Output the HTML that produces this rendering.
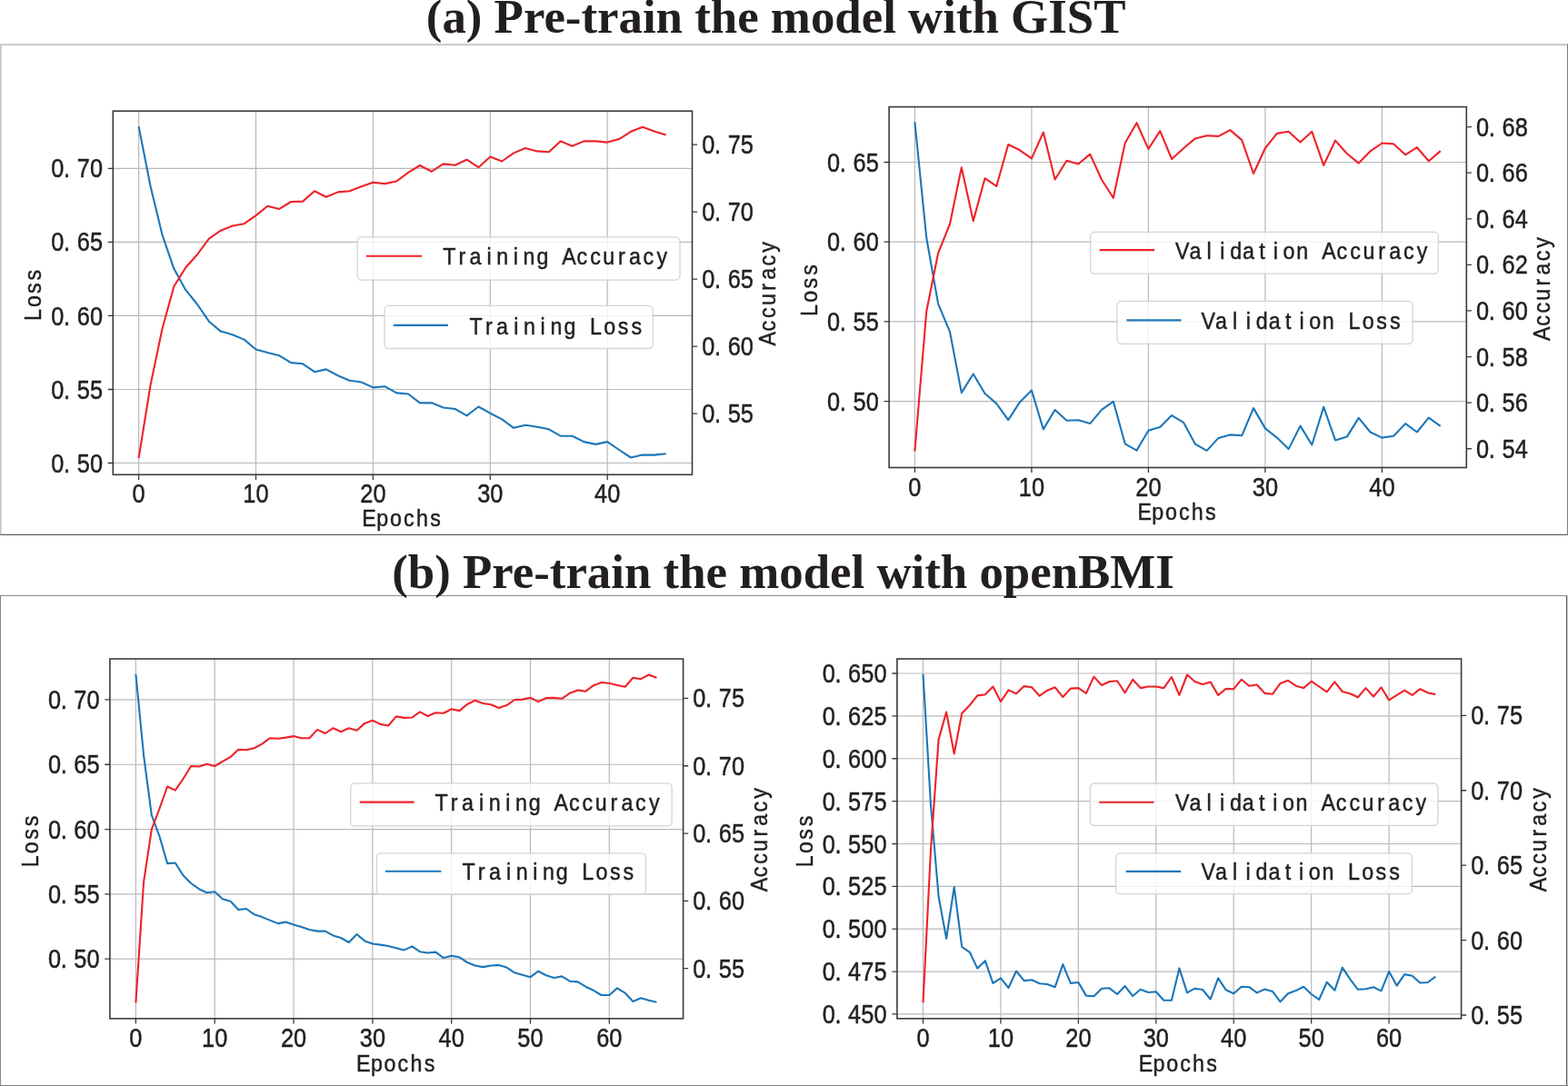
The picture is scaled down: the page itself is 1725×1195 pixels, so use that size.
<!DOCTYPE html>
<html><head><meta charset="utf-8"><title>Pre-train curves</title>
<style>html,body{margin:0;padding:0;background:#fff;overflow:hidden;}svg{display:block;}</style></head><body>
<svg width="1725" height="1195" viewBox="0 0 1725 1195">
<rect width="1725" height="1195" fill="#fff"/>
<path d="M0.8,588 V49.2 H1725" fill="none" stroke="#c3c3c3" stroke-width="1.7"/>
<path d="M1724.5,48.5 V588.5 H0" fill="none" stroke="#7d7d7d" stroke-width="1.1"/>
<path d="M1.2,588.3 H1724" fill="none" stroke="#5c5c5c" stroke-width="1.2"/>
<path d="M0.5,1195 V655.5 H1723.5 V1195" fill="none" stroke="#888" stroke-width="1.1"/>
<path d="M1723.6,655.5 V1195" fill="none" stroke="#555" stroke-width="1.2"/>
<path d="M0,1194.5 H1725" fill="none" stroke="#7f7f7f" stroke-width="1.2"/>
<text x="468.8" y="36.0" font-family="'Liberation Serif', serif" font-weight="bold" font-size="52.85" fill="#231f20">(a) Pre-train the model with GIST</text>
<text x="431.2" y="646.6" font-family="'Liberation Serif', serif" font-weight="bold" font-size="52.85" fill="#231f20">(b) Pre-train the model with openBMI</text>
<clipPath id="clipA1"><rect x="124.3" y="122.2" width="637.2" height="400.09999999999997"/></clipPath>
<line x1="152.60" y1="122.2" x2="152.60" y2="522.3" stroke="#b9b9b9" stroke-width="1.2"/>
<line x1="281.50" y1="122.2" x2="281.50" y2="522.3" stroke="#b9b9b9" stroke-width="1.2"/>
<line x1="410.40" y1="122.2" x2="410.40" y2="522.3" stroke="#b9b9b9" stroke-width="1.2"/>
<line x1="539.30" y1="122.2" x2="539.30" y2="522.3" stroke="#b9b9b9" stroke-width="1.2"/>
<line x1="668.20" y1="122.2" x2="668.20" y2="522.3" stroke="#b9b9b9" stroke-width="1.2"/>
<line x1="124.3" y1="509.52" x2="761.5" y2="509.52" stroke="#b9b9b9" stroke-width="1.2"/>
<line x1="124.3" y1="428.49" x2="761.5" y2="428.49" stroke="#b9b9b9" stroke-width="1.2"/>
<line x1="124.3" y1="347.46" x2="761.5" y2="347.46" stroke="#b9b9b9" stroke-width="1.2"/>
<line x1="124.3" y1="266.43" x2="761.5" y2="266.43" stroke="#b9b9b9" stroke-width="1.2"/>
<line x1="124.3" y1="185.40" x2="761.5" y2="185.40" stroke="#b9b9b9" stroke-width="1.2"/>
<g clip-path="url(#clipA1)"><polyline points="152.6,139.1 165.5,204.7 178.4,258.0 191.3,295.6 204.2,318.9 217.1,335.0 229.9,353.7 242.8,364.6 255.7,368.2 268.6,373.6 281.5,384.5 294.4,388.1 307.3,391.3 320.2,399.1 333.1,400.3 346.0,409.2 358.8,406.4 371.7,413.3 384.6,418.8 397.5,420.5 410.4,426.4 423.3,425.2 436.2,432.4 449.1,433.5 462.0,443.4 474.9,443.2 487.7,448.5 500.6,450.0 513.5,457.4 526.4,447.5 539.3,454.7 552.2,461.4 565.1,470.8 578.0,467.8 590.9,469.7 603.8,472.3 616.6,479.7 629.5,479.7 642.4,486.1 655.3,488.9 668.2,486.1 681.1,495.0 694.0,503.5 706.9,500.6 719.8,500.6 732.7,499.3" fill="none" stroke="#1c76b8" stroke-width="2.1" stroke-linejoin="round" stroke-linecap="butt"/></g>
<rect x="423.0" y="336.4" width="295.2" height="47.1" rx="4.5" ry="4.5" fill="#fff" fill-opacity="0.8" stroke="#d4d4d4" stroke-width="1.3"/>
<line x1="432.8" y1="357.9" x2="492.9" y2="357.9" stroke="#1c76b8" stroke-width="2.1"/>
<text transform="scale(0.9,1)" x="581.86 597.55 613.98 630.88 647.19 663.56 679.87 696.52 8052.67 728.28 745.25 761.70 778.04" y="367.60" font-size="25.8" text-anchor="middle" font-family="'Liberation Sans', 'Noto Sans CJK SC', sans-serif" fill="#231f20" stroke="#231f20" stroke-width="0.5" stroke-linejoin="round" >Training Loss</text>
<g clip-path="url(#clipA1)"><polyline points="152.6,504.1 165.5,424.0 178.4,362.2 191.3,315.3 204.2,294.5 217.1,280.0 229.9,262.7 242.8,253.7 255.7,248.5 268.6,246.2 281.5,237.1 294.4,226.7 307.3,229.9 320.2,222.0 333.1,221.6 346.0,210.3 358.8,216.7 371.7,211.4 384.6,210.3 397.5,205.2 410.4,200.8 423.3,202.1 436.2,199.5 449.1,189.9 462.0,182.0 474.9,188.7 487.7,180.4 500.6,181.7 513.5,175.7 526.4,184.2 539.3,172.5 552.2,177.5 565.1,168.4 578.0,163.0 590.9,166.4 603.8,167.3 616.6,155.4 629.5,160.7 642.4,155.4 655.3,155.4 668.2,156.6 681.1,153.1 694.0,144.8 706.9,139.7 719.8,144.4 732.7,148.6" fill="none" stroke="#ee2228" stroke-width="2.1" stroke-linejoin="round" stroke-linecap="butt"/></g>
<rect x="393.1" y="260.8" width="354.9" height="47.4" rx="4.5" ry="4.5" fill="#fff" fill-opacity="0.8" stroke="#d4d4d4" stroke-width="1.3"/>
<line x1="402.9" y1="281.7" x2="464.1" y2="281.7" stroke="#ee2228" stroke-width="2.1"/>
<text transform="scale(0.9,1)" x="549.19 564.79 581.13 597.94 614.16 630.43 646.66 663.21 8019.27 695.42 711.46 727.71 744.19 759.77 776.12 792.71 809.16" y="291.40" font-size="25.8" text-anchor="middle" font-family="'Liberation Sans', 'Noto Sans CJK SC', sans-serif" fill="#231f20" stroke="#231f20" stroke-width="0.5" stroke-linejoin="round" >Training Accuracy</text>
<rect x="124.3" y="122.2" width="637.2" height="400.09999999999997" fill="none" stroke="#3a3a3a" stroke-width="1.6"/>
<path d="M118.70,509.52H124.3M118.70,428.49H124.3M118.70,347.46H124.3M118.70,266.43H124.3M118.70,185.40H124.3M761.5,455.22H767.10M761.5,381.19H767.10M761.5,307.16H767.10M761.5,233.13H767.10M761.5,159.10H767.10M152.60,522.3V527.90M281.50,522.3V527.90M410.40,522.3V527.90M539.30,522.3V527.90M668.20,522.3V527.90" stroke="#3a3a3a" stroke-width="1.3" fill="none"/>
<text transform="scale(0.865,1)" x="73.24 85.03 106.07 122.49" y="519.57" font-size="29.3" text-anchor="middle" font-family="'Liberation Sans', 'Noto Sans CJK SC', sans-serif" fill="#231f20" stroke="#231f20" stroke-width="0.5" stroke-linejoin="round" >0.50</text>
<text transform="scale(0.865,1)" x="73.24 85.03 106.07 122.49" y="438.54" font-size="29.3" text-anchor="middle" font-family="'Liberation Sans', 'Noto Sans CJK SC', sans-serif" fill="#231f20" stroke="#231f20" stroke-width="0.5" stroke-linejoin="round" >0.55</text>
<text transform="scale(0.865,1)" x="73.24 85.03 106.07 122.49" y="357.51" font-size="29.3" text-anchor="middle" font-family="'Liberation Sans', 'Noto Sans CJK SC', sans-serif" fill="#231f20" stroke="#231f20" stroke-width="0.5" stroke-linejoin="round" >0.60</text>
<text transform="scale(0.865,1)" x="73.24 85.03 106.07 122.49" y="276.48" font-size="29.3" text-anchor="middle" font-family="'Liberation Sans', 'Noto Sans CJK SC', sans-serif" fill="#231f20" stroke="#231f20" stroke-width="0.5" stroke-linejoin="round" >0.65</text>
<text transform="scale(0.865,1)" x="73.24 85.03 106.07 122.49" y="195.45" font-size="29.3" text-anchor="middle" font-family="'Liberation Sans', 'Noto Sans CJK SC', sans-serif" fill="#231f20" stroke="#231f20" stroke-width="0.5" stroke-linejoin="round" >0.70</text>
<text transform="scale(0.865,1)" x="900.92 912.72 933.76 950.17" y="465.27" font-size="29.3" text-anchor="middle" font-family="'Liberation Sans', 'Noto Sans CJK SC', sans-serif" fill="#231f20" stroke="#231f20" stroke-width="0.5" stroke-linejoin="round" >0.55</text>
<text transform="scale(0.865,1)" x="900.92 912.72 933.76 950.17" y="391.24" font-size="29.3" text-anchor="middle" font-family="'Liberation Sans', 'Noto Sans CJK SC', sans-serif" fill="#231f20" stroke="#231f20" stroke-width="0.5" stroke-linejoin="round" >0.60</text>
<text transform="scale(0.865,1)" x="900.92 912.72 933.76 950.17" y="317.21" font-size="29.3" text-anchor="middle" font-family="'Liberation Sans', 'Noto Sans CJK SC', sans-serif" fill="#231f20" stroke="#231f20" stroke-width="0.5" stroke-linejoin="round" >0.65</text>
<text transform="scale(0.865,1)" x="900.92 912.72 933.76 950.17" y="243.18" font-size="29.3" text-anchor="middle" font-family="'Liberation Sans', 'Noto Sans CJK SC', sans-serif" fill="#231f20" stroke="#231f20" stroke-width="0.5" stroke-linejoin="round" >0.70</text>
<text transform="scale(0.865,1)" x="900.92 912.72 933.76 950.17" y="169.15" font-size="29.3" text-anchor="middle" font-family="'Liberation Sans', 'Noto Sans CJK SC', sans-serif" fill="#231f20" stroke="#231f20" stroke-width="0.5" stroke-linejoin="round" >0.75</text>
<text transform="scale(0.865,1)" x="176.42" y="552.80" font-size="29.3" text-anchor="middle" font-family="'Liberation Sans', 'Noto Sans CJK SC', sans-serif" fill="#231f20" stroke="#231f20" stroke-width="0.5" stroke-linejoin="round" >0</text>
<text transform="scale(0.865,1)" x="317.23 333.64" y="552.80" font-size="29.3" text-anchor="middle" font-family="'Liberation Sans', 'Noto Sans CJK SC', sans-serif" fill="#231f20" stroke="#231f20" stroke-width="0.5" stroke-linejoin="round" >10</text>
<text transform="scale(0.865,1)" x="466.24 482.66" y="552.80" font-size="29.3" text-anchor="middle" font-family="'Liberation Sans', 'Noto Sans CJK SC', sans-serif" fill="#231f20" stroke="#231f20" stroke-width="0.5" stroke-linejoin="round" >20</text>
<text transform="scale(0.865,1)" x="615.26 631.68" y="552.80" font-size="29.3" text-anchor="middle" font-family="'Liberation Sans', 'Noto Sans CJK SC', sans-serif" fill="#231f20" stroke="#231f20" stroke-width="0.5" stroke-linejoin="round" >30</text>
<text transform="scale(0.865,1)" x="764.28 780.69" y="552.80" font-size="29.3" text-anchor="middle" font-family="'Liberation Sans', 'Noto Sans CJK SC', sans-serif" fill="#231f20" stroke="#231f20" stroke-width="0.5" stroke-linejoin="round" >40</text>
<text transform="scale(0.9,1)" x="451.15 467.47 483.86 499.75 516.00 532.26" y="579.50" font-size="25.8" text-anchor="middle" font-family="'Liberation Sans', 'Noto Sans CJK SC', sans-serif" fill="#231f20" stroke="#231f20" stroke-width="0.5" stroke-linejoin="round" >Epochs</text>
<text transform="translate(45.20,0) rotate(-90) scale(0.9,1)" x="-385.16 -368.49 -352.34 -336.30" y="0" font-size="25.8" text-anchor="middle" font-family="'Liberation Sans', 'Noto Sans CJK SC', sans-serif" fill="#231f20" stroke="#231f20" stroke-width="0.5">Loss</text>
<text transform="translate(853.30,0) rotate(-90) scale(0.9,1)" x="-414.22 -398.44 -382.45 -366.23 -350.90 -334.81 -318.48 -302.29" y="0" font-size="25.8" text-anchor="middle" font-family="'Liberation Sans', 'Noto Sans CJK SC', sans-serif" fill="#231f20" stroke="#231f20" stroke-width="0.5">Accuracy</text>
<clipPath id="clipA2"><rect x="978.1" y="117.6" width="635.1999999999999" height="396.9"/></clipPath>
<line x1="1006.40" y1="117.6" x2="1006.40" y2="514.5" stroke="#b9b9b9" stroke-width="1.2"/>
<line x1="1134.90" y1="117.6" x2="1134.90" y2="514.5" stroke="#b9b9b9" stroke-width="1.2"/>
<line x1="1263.40" y1="117.6" x2="1263.40" y2="514.5" stroke="#b9b9b9" stroke-width="1.2"/>
<line x1="1391.90" y1="117.6" x2="1391.90" y2="514.5" stroke="#b9b9b9" stroke-width="1.2"/>
<line x1="1520.40" y1="117.6" x2="1520.40" y2="514.5" stroke="#b9b9b9" stroke-width="1.2"/>
<line x1="978.1" y1="441.60" x2="1613.3" y2="441.60" stroke="#b9b9b9" stroke-width="1.2"/>
<line x1="978.1" y1="353.90" x2="1613.3" y2="353.90" stroke="#b9b9b9" stroke-width="1.2"/>
<line x1="978.1" y1="266.20" x2="1613.3" y2="266.20" stroke="#b9b9b9" stroke-width="1.2"/>
<line x1="978.1" y1="178.50" x2="1613.3" y2="178.50" stroke="#b9b9b9" stroke-width="1.2"/>
<g clip-path="url(#clipA2)"><polyline points="1006.4,134.4 1019.2,261.5 1032.1,334.4 1045.0,365.2 1057.8,432.1 1070.7,411.5 1083.5,433.0 1096.3,444.1 1109.2,462.1 1122.0,442.4 1134.9,429.5 1147.8,472.4 1160.6,451.0 1173.5,462.8 1186.3,462.2 1199.2,466.1 1212.0,450.8 1224.8,441.8 1237.7,488.3 1250.5,495.7 1263.4,473.7 1276.2,469.9 1289.1,457.1 1302.0,464.8 1314.8,488.6 1327.7,495.9 1340.5,481.9 1353.3,478.4 1366.2,479.3 1379.0,449.1 1391.9,471.4 1404.8,481.6 1417.6,494.1 1430.5,468.6 1443.3,489.5 1456.2,447.8 1469.0,484.4 1481.8,480.6 1494.7,459.9 1507.5,475.5 1520.4,481.6 1533.2,479.7 1546.1,466.1 1558.9,475.5 1571.8,459.7 1584.7,468.9" fill="none" stroke="#1c76b8" stroke-width="2.1" stroke-linejoin="round" stroke-linecap="butt"/></g>
<rect x="1229.0" y="331.3" width="325.1" height="47.0" rx="4.5" ry="4.5" fill="#fff" fill-opacity="0.8" stroke="#d4d4d4" stroke-width="1.3"/>
<line x1="1239.4" y1="352.4" x2="1299.4" y2="352.4" stroke="#1c76b8" stroke-width="2.1"/>
<text transform="scale(0.9,1)" x="1477.05 1492.79 1509.63 1525.93 1542.51 1557.97 1574.71 1591.11 1607.39 1623.67 8980.08 1655.64 1672.57 1688.97 1705.26" y="362.10" font-size="25.8" text-anchor="middle" font-family="'Liberation Sans', 'Noto Sans CJK SC', sans-serif" fill="#231f20" stroke="#231f20" stroke-width="0.5" stroke-linejoin="round" >Validation Loss</text>
<g clip-path="url(#clipA2)"><polyline points="1006.4,496.5 1019.2,342.8 1032.1,278.5 1045.0,246.5 1057.8,184.2 1070.7,243.1 1083.5,196.2 1096.3,204.8 1109.2,159.0 1122.0,165.3 1134.9,174.4 1147.8,145.6 1160.6,197.5 1173.5,176.8 1186.3,180.5 1199.2,169.6 1212.0,197.7 1224.8,217.8 1237.7,157.5 1250.5,135.2 1263.4,163.9 1276.2,144.1 1289.1,175.0 1302.0,163.3 1314.8,152.4 1327.7,149.2 1340.5,149.9 1353.3,143.1 1366.2,154.1 1379.0,191.0 1391.9,163.0 1404.8,146.9 1417.6,144.8 1430.5,156.6 1443.3,144.8 1456.2,181.8 1469.0,154.6 1481.8,169.0 1494.7,179.6 1507.5,166.4 1520.4,157.5 1533.2,158.4 1546.1,170.3 1558.9,162.2 1571.8,177.3 1584.7,166.1" fill="none" stroke="#ee2228" stroke-width="2.1" stroke-linejoin="round" stroke-linecap="butt"/></g>
<rect x="1199.7" y="255.4" width="382.6" height="45.7" rx="4.5" ry="4.5" fill="#fff" fill-opacity="0.8" stroke="#d4d4d4" stroke-width="1.3"/>
<line x1="1209.7" y1="275.1" x2="1270.0" y2="275.1" stroke="#ee2228" stroke-width="2.1"/>
<text transform="scale(0.9,1)" x="1445.27 1461.00 1477.83 1494.13 1510.70 1526.14 1542.87 1559.26 1575.54 1591.81 8948.21 1624.39 1640.47 1656.76 1673.27 1688.89 1705.27 1721.89 1738.38" y="284.90" font-size="25.8" text-anchor="middle" font-family="'Liberation Sans', 'Noto Sans CJK SC', sans-serif" fill="#231f20" stroke="#231f20" stroke-width="0.5" stroke-linejoin="round" >Validation Accuracy</text>
<rect x="978.1" y="117.6" width="635.1999999999999" height="396.9" fill="none" stroke="#3a3a3a" stroke-width="1.6"/>
<path d="M972.50,441.60H978.1M972.50,353.90H978.1M972.50,266.20H978.1M972.50,178.50H978.1M1613.3,493.73H1618.90M1613.3,443.14H1618.90M1613.3,392.55H1618.90M1613.3,341.96H1618.90M1613.3,291.37H1618.90M1613.3,240.78H1618.90M1613.3,190.19H1618.90M1613.3,139.60H1618.90M1006.40,514.5V520.10M1134.90,514.5V520.10M1263.40,514.5V520.10M1391.90,514.5V520.10M1520.40,514.5V520.10" stroke="#3a3a3a" stroke-width="1.3" fill="none"/>
<text transform="scale(0.865,1)" x="1060.29 1072.08 1093.12 1109.54" y="451.65" font-size="29.3" text-anchor="middle" font-family="'Liberation Sans', 'Noto Sans CJK SC', sans-serif" fill="#231f20" stroke="#231f20" stroke-width="0.5" stroke-linejoin="round" >0.50</text>
<text transform="scale(0.865,1)" x="1060.29 1072.08 1093.12 1109.54" y="363.95" font-size="29.3" text-anchor="middle" font-family="'Liberation Sans', 'Noto Sans CJK SC', sans-serif" fill="#231f20" stroke="#231f20" stroke-width="0.5" stroke-linejoin="round" >0.55</text>
<text transform="scale(0.865,1)" x="1060.29 1072.08 1093.12 1109.54" y="276.25" font-size="29.3" text-anchor="middle" font-family="'Liberation Sans', 'Noto Sans CJK SC', sans-serif" fill="#231f20" stroke="#231f20" stroke-width="0.5" stroke-linejoin="round" >0.60</text>
<text transform="scale(0.865,1)" x="1060.29 1072.08 1093.12 1109.54" y="188.55" font-size="29.3" text-anchor="middle" font-family="'Liberation Sans', 'Noto Sans CJK SC', sans-serif" fill="#231f20" stroke="#231f20" stroke-width="0.5" stroke-linejoin="round" >0.65</text>
<text transform="scale(0.865,1)" x="1885.66 1897.46 1918.50 1934.91" y="503.78" font-size="29.3" text-anchor="middle" font-family="'Liberation Sans', 'Noto Sans CJK SC', sans-serif" fill="#231f20" stroke="#231f20" stroke-width="0.5" stroke-linejoin="round" >0.54</text>
<text transform="scale(0.865,1)" x="1885.66 1897.46 1918.50 1934.91" y="453.19" font-size="29.3" text-anchor="middle" font-family="'Liberation Sans', 'Noto Sans CJK SC', sans-serif" fill="#231f20" stroke="#231f20" stroke-width="0.5" stroke-linejoin="round" >0.56</text>
<text transform="scale(0.865,1)" x="1885.66 1897.46 1918.50 1934.91" y="402.60" font-size="29.3" text-anchor="middle" font-family="'Liberation Sans', 'Noto Sans CJK SC', sans-serif" fill="#231f20" stroke="#231f20" stroke-width="0.5" stroke-linejoin="round" >0.58</text>
<text transform="scale(0.865,1)" x="1885.66 1897.46 1918.50 1934.91" y="352.01" font-size="29.3" text-anchor="middle" font-family="'Liberation Sans', 'Noto Sans CJK SC', sans-serif" fill="#231f20" stroke="#231f20" stroke-width="0.5" stroke-linejoin="round" >0.60</text>
<text transform="scale(0.865,1)" x="1885.66 1897.46 1918.50 1934.91" y="301.42" font-size="29.3" text-anchor="middle" font-family="'Liberation Sans', 'Noto Sans CJK SC', sans-serif" fill="#231f20" stroke="#231f20" stroke-width="0.5" stroke-linejoin="round" >0.62</text>
<text transform="scale(0.865,1)" x="1885.66 1897.46 1918.50 1934.91" y="250.83" font-size="29.3" text-anchor="middle" font-family="'Liberation Sans', 'Noto Sans CJK SC', sans-serif" fill="#231f20" stroke="#231f20" stroke-width="0.5" stroke-linejoin="round" >0.64</text>
<text transform="scale(0.865,1)" x="1885.66 1897.46 1918.50 1934.91" y="200.24" font-size="29.3" text-anchor="middle" font-family="'Liberation Sans', 'Noto Sans CJK SC', sans-serif" fill="#231f20" stroke="#231f20" stroke-width="0.5" stroke-linejoin="round" >0.66</text>
<text transform="scale(0.865,1)" x="1885.66 1897.46 1918.50 1934.91" y="149.65" font-size="29.3" text-anchor="middle" font-family="'Liberation Sans', 'Noto Sans CJK SC', sans-serif" fill="#231f20" stroke="#231f20" stroke-width="0.5" stroke-linejoin="round" >0.68</text>
<text transform="scale(0.865,1)" x="1163.47" y="546.40" font-size="29.3" text-anchor="middle" font-family="'Liberation Sans', 'Noto Sans CJK SC', sans-serif" fill="#231f20" stroke="#231f20" stroke-width="0.5" stroke-linejoin="round" >0</text>
<text transform="scale(0.865,1)" x="1303.82 1320.23" y="546.40" font-size="29.3" text-anchor="middle" font-family="'Liberation Sans', 'Noto Sans CJK SC', sans-serif" fill="#231f20" stroke="#231f20" stroke-width="0.5" stroke-linejoin="round" >10</text>
<text transform="scale(0.865,1)" x="1452.37 1468.79" y="546.40" font-size="29.3" text-anchor="middle" font-family="'Liberation Sans', 'Noto Sans CJK SC', sans-serif" fill="#231f20" stroke="#231f20" stroke-width="0.5" stroke-linejoin="round" >20</text>
<text transform="scale(0.865,1)" x="1600.92 1617.34" y="546.40" font-size="29.3" text-anchor="middle" font-family="'Liberation Sans', 'Noto Sans CJK SC', sans-serif" fill="#231f20" stroke="#231f20" stroke-width="0.5" stroke-linejoin="round" >30</text>
<text transform="scale(0.865,1)" x="1749.48 1765.90" y="546.40" font-size="29.3" text-anchor="middle" font-family="'Liberation Sans', 'Noto Sans CJK SC', sans-serif" fill="#231f20" stroke="#231f20" stroke-width="0.5" stroke-linejoin="round" >40</text>
<text transform="scale(0.9,1)" x="1399.04 1415.29 1431.61 1447.44 1463.62 1479.82" y="571.90" font-size="25.8" text-anchor="middle" font-family="'Liberation Sans', 'Noto Sans CJK SC', sans-serif" fill="#231f20" stroke="#231f20" stroke-width="0.5" stroke-linejoin="round" >Epochs</text>
<text transform="translate(899.00,0) rotate(-90) scale(0.9,1)" x="-379.61 -362.68 -346.27 -329.96" y="0" font-size="25.8" text-anchor="middle" font-family="'Liberation Sans', 'Noto Sans CJK SC', sans-serif" fill="#231f20" stroke="#231f20" stroke-width="0.5">Loss</text>
<text transform="translate(1705.30,0) rotate(-90) scale(0.9,1)" x="-408.00 -392.31 -376.42 -360.29 -345.06 -329.07 -312.83 -296.73" y="0" font-size="25.8" text-anchor="middle" font-family="'Liberation Sans', 'Noto Sans CJK SC', sans-serif" fill="#231f20" stroke="#231f20" stroke-width="0.5">Accuracy</text>
<clipPath id="clipB1"><rect x="120.9" y="725.0" width="630.7" height="395.79999999999995"/></clipPath>
<line x1="149.40" y1="725.0" x2="149.40" y2="1120.8" stroke="#b9b9b9" stroke-width="1.2"/>
<line x1="236.22" y1="725.0" x2="236.22" y2="1120.8" stroke="#b9b9b9" stroke-width="1.2"/>
<line x1="323.04" y1="725.0" x2="323.04" y2="1120.8" stroke="#b9b9b9" stroke-width="1.2"/>
<line x1="409.86" y1="725.0" x2="409.86" y2="1120.8" stroke="#b9b9b9" stroke-width="1.2"/>
<line x1="496.68" y1="725.0" x2="496.68" y2="1120.8" stroke="#b9b9b9" stroke-width="1.2"/>
<line x1="583.50" y1="725.0" x2="583.50" y2="1120.8" stroke="#b9b9b9" stroke-width="1.2"/>
<line x1="670.32" y1="725.0" x2="670.32" y2="1120.8" stroke="#b9b9b9" stroke-width="1.2"/>
<line x1="120.9" y1="1055.22" x2="751.6" y2="1055.22" stroke="#b9b9b9" stroke-width="1.2"/>
<line x1="120.9" y1="983.89" x2="751.6" y2="983.89" stroke="#b9b9b9" stroke-width="1.2"/>
<line x1="120.9" y1="912.56" x2="751.6" y2="912.56" stroke="#b9b9b9" stroke-width="1.2"/>
<line x1="120.9" y1="841.23" x2="751.6" y2="841.23" stroke="#b9b9b9" stroke-width="1.2"/>
<line x1="120.9" y1="769.90" x2="751.6" y2="769.90" stroke="#b9b9b9" stroke-width="1.2"/>
<g clip-path="url(#clipB1)"><polyline points="149.4,741.9 158.1,831.3 166.8,897.0 175.4,920.0 184.1,950.1 192.8,949.5 201.5,963.2 210.2,972.0 218.9,978.2 227.5,982.2 236.2,981.2 244.9,989.2 253.6,991.7 262.3,1001.0 270.9,1000.0 279.6,1006.2 288.3,1009.1 297.0,1012.6 305.7,1016.1 314.4,1014.6 323.0,1017.6 331.7,1020.1 340.4,1023.0 349.1,1024.6 357.8,1024.6 366.5,1029.4 375.1,1032.0 383.8,1037.0 392.5,1028.0 401.2,1035.4 409.9,1038.5 418.5,1039.6 427.2,1041.0 435.9,1043.3 444.6,1045.4 453.3,1041.4 462.0,1047.2 470.6,1048.5 479.3,1047.6 488.0,1054.1 496.7,1051.7 505.4,1053.3 514.0,1059.0 522.7,1062.5 531.4,1064.1 540.1,1062.5 548.8,1061.9 557.5,1064.6 566.1,1070.3 574.8,1072.8 583.5,1075.2 592.2,1068.7 600.9,1073.2 609.5,1076.0 618.2,1074.4 626.9,1079.7 635.6,1080.4 644.3,1085.7 653.0,1089.8 661.6,1095.0 670.3,1095.0 679.0,1087.4 687.7,1092.7 696.4,1102.0 705.0,1098.2 713.7,1100.8 722.4,1102.8" fill="none" stroke="#1c76b8" stroke-width="2.1" stroke-linejoin="round" stroke-linecap="butt"/></g>
<rect x="414.4" y="938.9" width="296.1" height="45.1" rx="4.5" ry="4.5" fill="#fff" fill-opacity="0.8" stroke="#d4d4d4" stroke-width="1.3"/>
<line x1="423.8" y1="958.8" x2="485.4" y2="958.8" stroke="#1c76b8" stroke-width="2.1"/>
<text transform="scale(0.9,1)" x="572.86 588.47 604.83 621.65 637.89 654.19 670.43 687.00 8043.08 718.61 735.51 751.88 768.15" y="968.40" font-size="25.8" text-anchor="middle" font-family="'Liberation Sans', 'Noto Sans CJK SC', sans-serif" fill="#231f20" stroke="#231f20" stroke-width="0.5" stroke-linejoin="round" >Training Loss</text>
<g clip-path="url(#clipB1)"><polyline points="149.4,1103.4 158.1,970.3 166.8,912.7 175.4,890.0 184.1,865.5 192.8,869.6 201.5,857.0 210.2,843.0 218.9,843.5 227.5,840.7 236.2,843.0 244.9,837.8 253.6,832.9 262.3,824.7 270.9,825.2 279.6,823.2 288.3,818.6 297.0,812.2 305.7,812.8 314.4,811.6 323.0,810.1 331.7,812.2 340.4,812.2 349.1,802.9 357.8,807.0 366.5,801.2 375.1,805.2 383.8,801.2 392.5,803.8 401.2,795.9 409.9,792.8 418.5,796.9 427.2,798.5 435.9,788.4 444.6,789.9 453.3,789.5 462.0,783.4 470.6,788.0 479.3,784.2 488.0,784.7 496.7,780.2 505.4,782.1 514.0,775.0 522.7,770.8 531.4,774.0 540.1,775.3 548.8,779.0 557.5,776.1 566.1,770.0 574.8,769.6 583.5,767.7 592.2,772.1 600.9,768.0 609.5,767.7 618.2,768.8 626.9,762.7 635.6,759.4 644.3,760.7 653.0,754.2 661.6,751.0 670.3,751.8 679.0,753.9 687.7,755.8 696.4,745.8 705.0,747.2 713.7,742.5 722.4,745.8" fill="none" stroke="#ee2228" stroke-width="2.1" stroke-linejoin="round" stroke-linecap="butt"/></g>
<rect x="385.8" y="861.9" width="353.3" height="47.0" rx="4.5" ry="4.5" fill="#fff" fill-opacity="0.8" stroke="#d4d4d4" stroke-width="1.3"/>
<line x1="395.7" y1="882.6" x2="455.6" y2="882.6" stroke="#ee2228" stroke-width="2.1"/>
<text transform="scale(0.9,1)" x="539.63 555.24 571.59 588.40 604.63 620.91 637.14 653.71 8009.77 685.93 701.98 718.23 734.71 750.31 766.66 783.25 799.71" y="891.90" font-size="25.8" text-anchor="middle" font-family="'Liberation Sans', 'Noto Sans CJK SC', sans-serif" fill="#231f20" stroke="#231f20" stroke-width="0.5" stroke-linejoin="round" >Training Accuracy</text>
<rect x="120.9" y="725.0" width="630.7" height="395.79999999999995" fill="none" stroke="#3a3a3a" stroke-width="1.6"/>
<path d="M115.30,1055.22H120.9M115.30,983.89H120.9M115.30,912.56H120.9M115.30,841.23H120.9M115.30,769.90H120.9M751.6,1065.72H757.20M751.6,991.39H757.20M751.6,917.06H757.20M751.6,842.73H757.20M751.6,768.40H757.20M149.40,1120.8V1126.40M236.22,1120.8V1126.40M323.04,1120.8V1126.40M409.86,1120.8V1126.40M496.68,1120.8V1126.40M583.50,1120.8V1126.40M670.32,1120.8V1126.40" stroke="#3a3a3a" stroke-width="1.3" fill="none"/>
<text transform="scale(0.865,1)" x="69.31 81.10 102.14 118.55" y="1065.27" font-size="29.3" text-anchor="middle" font-family="'Liberation Sans', 'Noto Sans CJK SC', sans-serif" fill="#231f20" stroke="#231f20" stroke-width="0.5" stroke-linejoin="round" >0.50</text>
<text transform="scale(0.865,1)" x="69.31 81.10 102.14 118.55" y="993.94" font-size="29.3" text-anchor="middle" font-family="'Liberation Sans', 'Noto Sans CJK SC', sans-serif" fill="#231f20" stroke="#231f20" stroke-width="0.5" stroke-linejoin="round" >0.55</text>
<text transform="scale(0.865,1)" x="69.31 81.10 102.14 118.55" y="922.61" font-size="29.3" text-anchor="middle" font-family="'Liberation Sans', 'Noto Sans CJK SC', sans-serif" fill="#231f20" stroke="#231f20" stroke-width="0.5" stroke-linejoin="round" >0.60</text>
<text transform="scale(0.865,1)" x="69.31 81.10 102.14 118.55" y="851.28" font-size="29.3" text-anchor="middle" font-family="'Liberation Sans', 'Noto Sans CJK SC', sans-serif" fill="#231f20" stroke="#231f20" stroke-width="0.5" stroke-linejoin="round" >0.65</text>
<text transform="scale(0.865,1)" x="69.31 81.10 102.14 118.55" y="779.95" font-size="29.3" text-anchor="middle" font-family="'Liberation Sans', 'Noto Sans CJK SC', sans-serif" fill="#231f20" stroke="#231f20" stroke-width="0.5" stroke-linejoin="round" >0.70</text>
<text transform="scale(0.865,1)" x="889.48 901.27 922.31 938.73" y="1075.77" font-size="29.3" text-anchor="middle" font-family="'Liberation Sans', 'Noto Sans CJK SC', sans-serif" fill="#231f20" stroke="#231f20" stroke-width="0.5" stroke-linejoin="round" >0.55</text>
<text transform="scale(0.865,1)" x="889.48 901.27 922.31 938.73" y="1001.44" font-size="29.3" text-anchor="middle" font-family="'Liberation Sans', 'Noto Sans CJK SC', sans-serif" fill="#231f20" stroke="#231f20" stroke-width="0.5" stroke-linejoin="round" >0.60</text>
<text transform="scale(0.865,1)" x="889.48 901.27 922.31 938.73" y="927.11" font-size="29.3" text-anchor="middle" font-family="'Liberation Sans', 'Noto Sans CJK SC', sans-serif" fill="#231f20" stroke="#231f20" stroke-width="0.5" stroke-linejoin="round" >0.65</text>
<text transform="scale(0.865,1)" x="889.48 901.27 922.31 938.73" y="852.78" font-size="29.3" text-anchor="middle" font-family="'Liberation Sans', 'Noto Sans CJK SC', sans-serif" fill="#231f20" stroke="#231f20" stroke-width="0.5" stroke-linejoin="round" >0.70</text>
<text transform="scale(0.865,1)" x="889.48 901.27 922.31 938.73" y="778.45" font-size="29.3" text-anchor="middle" font-family="'Liberation Sans', 'Noto Sans CJK SC', sans-serif" fill="#231f20" stroke="#231f20" stroke-width="0.5" stroke-linejoin="round" >0.75</text>
<text transform="scale(0.865,1)" x="172.72" y="1151.80" font-size="29.3" text-anchor="middle" font-family="'Liberation Sans', 'Noto Sans CJK SC', sans-serif" fill="#231f20" stroke="#231f20" stroke-width="0.5" stroke-linejoin="round" >0</text>
<text transform="scale(0.865,1)" x="264.88 281.29" y="1151.80" font-size="29.3" text-anchor="middle" font-family="'Liberation Sans', 'Noto Sans CJK SC', sans-serif" fill="#231f20" stroke="#231f20" stroke-width="0.5" stroke-linejoin="round" >10</text>
<text transform="scale(0.865,1)" x="365.25 381.66" y="1151.80" font-size="29.3" text-anchor="middle" font-family="'Liberation Sans', 'Noto Sans CJK SC', sans-serif" fill="#231f20" stroke="#231f20" stroke-width="0.5" stroke-linejoin="round" >20</text>
<text transform="scale(0.865,1)" x="465.62 482.03" y="1151.80" font-size="29.3" text-anchor="middle" font-family="'Liberation Sans', 'Noto Sans CJK SC', sans-serif" fill="#231f20" stroke="#231f20" stroke-width="0.5" stroke-linejoin="round" >30</text>
<text transform="scale(0.865,1)" x="565.99 582.40" y="1151.80" font-size="29.3" text-anchor="middle" font-family="'Liberation Sans', 'Noto Sans CJK SC', sans-serif" fill="#231f20" stroke="#231f20" stroke-width="0.5" stroke-linejoin="round" >40</text>
<text transform="scale(0.865,1)" x="666.36 682.77" y="1151.80" font-size="29.3" text-anchor="middle" font-family="'Liberation Sans', 'Noto Sans CJK SC', sans-serif" fill="#231f20" stroke="#231f20" stroke-width="0.5" stroke-linejoin="round" >50</text>
<text transform="scale(0.865,1)" x="766.73 783.14" y="1151.80" font-size="29.3" text-anchor="middle" font-family="'Liberation Sans', 'Noto Sans CJK SC', sans-serif" fill="#231f20" stroke="#231f20" stroke-width="0.5" stroke-linejoin="round" >60</text>
<text transform="scale(0.9,1)" x="444.15 460.40 476.72 492.55 508.73 524.93" y="1179.30" font-size="25.8" text-anchor="middle" font-family="'Liberation Sans', 'Noto Sans CJK SC', sans-serif" fill="#231f20" stroke="#231f20" stroke-width="0.5" stroke-linejoin="round" >Epochs</text>
<text transform="translate(41.90,0) rotate(-90) scale(0.9,1)" x="-1053.16 -1036.34 -1020.04 -1003.85" y="0" font-size="25.8" text-anchor="middle" font-family="'Liberation Sans', 'Noto Sans CJK SC', sans-serif" fill="#231f20" stroke="#231f20" stroke-width="0.5">Loss</text>
<text transform="translate(843.80,0) rotate(-90) scale(0.9,1)" x="-1081.67 -1065.93 -1049.99 -1033.82 -1018.53 -1002.50 -986.21 -970.07" y="0" font-size="25.8" text-anchor="middle" font-family="'Liberation Sans', 'Noto Sans CJK SC', sans-serif" fill="#231f20" stroke="#231f20" stroke-width="0.5">Accuracy</text>
<clipPath id="clipB2"><rect x="986.9" y="725.0" width="620.6999999999999" height="395.79999999999995"/></clipPath>
<line x1="1015.50" y1="725.0" x2="1015.50" y2="1120.8" stroke="#b9b9b9" stroke-width="1.2"/>
<line x1="1100.93" y1="725.0" x2="1100.93" y2="1120.8" stroke="#b9b9b9" stroke-width="1.2"/>
<line x1="1186.36" y1="725.0" x2="1186.36" y2="1120.8" stroke="#b9b9b9" stroke-width="1.2"/>
<line x1="1271.79" y1="725.0" x2="1271.79" y2="1120.8" stroke="#b9b9b9" stroke-width="1.2"/>
<line x1="1357.22" y1="725.0" x2="1357.22" y2="1120.8" stroke="#b9b9b9" stroke-width="1.2"/>
<line x1="1442.65" y1="725.0" x2="1442.65" y2="1120.8" stroke="#b9b9b9" stroke-width="1.2"/>
<line x1="1528.08" y1="725.0" x2="1528.08" y2="1120.8" stroke="#b9b9b9" stroke-width="1.2"/>
<line x1="986.9" y1="1115.96" x2="1607.6" y2="1115.96" stroke="#b9b9b9" stroke-width="1.2"/>
<line x1="986.9" y1="1069.09" x2="1607.6" y2="1069.09" stroke="#b9b9b9" stroke-width="1.2"/>
<line x1="986.9" y1="1022.22" x2="1607.6" y2="1022.22" stroke="#b9b9b9" stroke-width="1.2"/>
<line x1="986.9" y1="975.35" x2="1607.6" y2="975.35" stroke="#b9b9b9" stroke-width="1.2"/>
<line x1="986.9" y1="928.48" x2="1607.6" y2="928.48" stroke="#b9b9b9" stroke-width="1.2"/>
<line x1="986.9" y1="881.61" x2="1607.6" y2="881.61" stroke="#b9b9b9" stroke-width="1.2"/>
<line x1="986.9" y1="834.74" x2="1607.6" y2="834.74" stroke="#b9b9b9" stroke-width="1.2"/>
<line x1="986.9" y1="787.87" x2="1607.6" y2="787.87" stroke="#b9b9b9" stroke-width="1.2"/>
<line x1="986.9" y1="741.00" x2="1607.6" y2="741.00" stroke="#b9b9b9" stroke-width="1.2"/>
<g clip-path="url(#clipB2)"><polyline points="1015.5,741.8 1024.0,886.0 1032.6,986.5 1041.1,1032.8 1049.7,976.1 1058.2,1041.8 1066.8,1047.8 1075.3,1065.6 1083.8,1057.2 1092.4,1081.9 1100.9,1076.3 1109.5,1087.0 1118.0,1068.5 1126.6,1079.1 1135.1,1078.3 1143.6,1082.3 1152.2,1083.0 1160.7,1086.2 1169.3,1061.1 1177.8,1081.9 1186.4,1081.0 1194.9,1095.6 1203.4,1096.3 1212.0,1087.7 1220.5,1087.3 1229.1,1094.0 1237.6,1085.1 1246.2,1096.0 1254.7,1088.8 1263.2,1092.0 1271.8,1091.3 1280.3,1100.7 1288.9,1100.7 1297.4,1065.4 1306.0,1092.4 1314.5,1087.7 1323.0,1089.0 1331.6,1099.5 1340.1,1076.3 1348.7,1089.3 1357.2,1093.2 1365.8,1085.7 1374.3,1086.2 1382.8,1092.4 1391.4,1088.5 1399.9,1090.9 1408.5,1102.3 1417.0,1093.2 1425.6,1090.1 1434.1,1085.7 1442.7,1094.0 1451.2,1099.8 1459.7,1080.7 1468.3,1089.8 1476.8,1064.7 1485.4,1077.6 1493.9,1088.8 1502.5,1088.2 1511.0,1086.2 1519.5,1090.4 1528.1,1069.0 1536.6,1084.6 1545.2,1072.1 1553.7,1073.7 1562.3,1081.5 1570.8,1081.0 1579.3,1074.7" fill="none" stroke="#1c76b8" stroke-width="2.1" stroke-linejoin="round" stroke-linecap="butt"/></g>
<rect x="1227.6" y="938.9" width="325.8" height="44.8" rx="4.5" ry="4.5" fill="#fff" fill-opacity="0.8" stroke="#d4d4d4" stroke-width="1.3"/>
<line x1="1238.7" y1="958.9" x2="1299.0" y2="958.9" stroke="#1c76b8" stroke-width="2.1"/>
<text transform="scale(0.9,1)" x="1477.05 1492.74 1509.52 1525.77 1542.29 1557.69 1574.37 1590.72 1606.95 1623.17 8979.52 1655.03 1671.90 1688.24 1704.48" y="968.20" font-size="25.8" text-anchor="middle" font-family="'Liberation Sans', 'Noto Sans CJK SC', sans-serif" fill="#231f20" stroke="#231f20" stroke-width="0.5" stroke-linejoin="round" >Validation Loss</text>
<g clip-path="url(#clipB2)"><polyline points="1015.5,1103.1 1024.0,935.0 1032.6,813.6 1041.1,783.5 1049.7,829.4 1058.2,785.0 1066.8,776.0 1075.3,765.4 1083.8,764.2 1092.4,755.5 1100.9,772.0 1109.5,759.4 1118.0,763.3 1126.6,755.1 1135.1,756.3 1143.6,765.7 1152.2,759.7 1160.7,756.3 1169.3,767.0 1177.8,757.6 1186.4,757.1 1194.9,762.9 1203.4,744.6 1212.0,754.0 1220.5,750.0 1229.1,749.3 1237.6,762.3 1246.2,747.7 1254.7,757.1 1263.2,755.5 1271.8,755.5 1280.3,757.1 1288.9,745.0 1297.4,764.9 1306.0,742.5 1314.5,750.0 1323.0,752.9 1331.6,750.4 1340.1,764.9 1348.7,757.9 1357.2,758.2 1365.8,747.7 1374.3,754.7 1382.8,753.5 1391.4,762.9 1399.9,763.8 1408.5,751.9 1417.0,748.8 1425.6,754.7 1434.1,757.1 1442.7,749.7 1451.2,755.5 1459.7,761.3 1468.3,750.4 1476.8,761.0 1485.4,763.3 1493.9,767.3 1502.5,757.1 1511.0,766.5 1519.5,756.3 1528.1,770.4 1536.6,764.9 1545.2,759.7 1553.7,764.9 1562.3,758.2 1570.8,762.3 1579.3,764.1" fill="none" stroke="#ee2228" stroke-width="2.1" stroke-linejoin="round" stroke-linecap="butt"/></g>
<rect x="1199.3" y="862.0" width="382.6" height="46.3" rx="4.5" ry="4.5" fill="#fff" fill-opacity="0.8" stroke="#d4d4d4" stroke-width="1.3"/>
<line x1="1209.2" y1="882.8" x2="1269.5" y2="882.8" stroke="#ee2228" stroke-width="2.1"/>
<text transform="scale(0.9,1)" x="1445.38 1461.04 1477.78 1494.00 1510.49 1525.85 1542.50 1558.81 1575.01 1591.20 8947.52 1623.62 1639.62 1655.82 1672.25 1687.80 1704.10 1720.64 1737.04" y="892.10" font-size="25.8" text-anchor="middle" font-family="'Liberation Sans', 'Noto Sans CJK SC', sans-serif" fill="#231f20" stroke="#231f20" stroke-width="0.5" stroke-linejoin="round" >Validation Accuracy</text>
<rect x="986.9" y="725.0" width="620.6999999999999" height="395.79999999999995" fill="none" stroke="#3a3a3a" stroke-width="1.6"/>
<path d="M981.30,1115.96H986.9M981.30,1069.09H986.9M981.30,1022.22H986.9M981.30,975.35H986.9M981.30,928.48H986.9M981.30,881.61H986.9M981.30,834.74H986.9M981.30,787.87H986.9M981.30,741.00H986.9M1607.6,1117.02H1613.20M1607.6,1034.59H1613.20M1607.6,952.16H1613.20M1607.6,869.73H1613.20M1607.6,787.30H1613.20M1015.50,1120.8V1126.40M1100.93,1120.8V1126.40M1186.36,1120.8V1126.40M1271.79,1120.8V1126.40M1357.22,1120.8V1126.40M1442.65,1120.8V1126.40M1528.08,1120.8V1126.40" stroke="#3a3a3a" stroke-width="1.3" fill="none"/>
<text transform="scale(0.865,1)" x="1054.05 1065.84 1086.88 1103.29 1119.71" y="1126.01" font-size="29.3" text-anchor="middle" font-family="'Liberation Sans', 'Noto Sans CJK SC', sans-serif" fill="#231f20" stroke="#231f20" stroke-width="0.5" stroke-linejoin="round" >0.450</text>
<text transform="scale(0.865,1)" x="1054.05 1065.84 1086.88 1103.29 1119.71" y="1079.14" font-size="29.3" text-anchor="middle" font-family="'Liberation Sans', 'Noto Sans CJK SC', sans-serif" fill="#231f20" stroke="#231f20" stroke-width="0.5" stroke-linejoin="round" >0.475</text>
<text transform="scale(0.865,1)" x="1054.05 1065.84 1086.88 1103.29 1119.71" y="1032.27" font-size="29.3" text-anchor="middle" font-family="'Liberation Sans', 'Noto Sans CJK SC', sans-serif" fill="#231f20" stroke="#231f20" stroke-width="0.5" stroke-linejoin="round" >0.500</text>
<text transform="scale(0.865,1)" x="1054.05 1065.84 1086.88 1103.29 1119.71" y="985.40" font-size="29.3" text-anchor="middle" font-family="'Liberation Sans', 'Noto Sans CJK SC', sans-serif" fill="#231f20" stroke="#231f20" stroke-width="0.5" stroke-linejoin="round" >0.525</text>
<text transform="scale(0.865,1)" x="1054.05 1065.84 1086.88 1103.29 1119.71" y="938.53" font-size="29.3" text-anchor="middle" font-family="'Liberation Sans', 'Noto Sans CJK SC', sans-serif" fill="#231f20" stroke="#231f20" stroke-width="0.5" stroke-linejoin="round" >0.550</text>
<text transform="scale(0.865,1)" x="1054.05 1065.84 1086.88 1103.29 1119.71" y="891.66" font-size="29.3" text-anchor="middle" font-family="'Liberation Sans', 'Noto Sans CJK SC', sans-serif" fill="#231f20" stroke="#231f20" stroke-width="0.5" stroke-linejoin="round" >0.575</text>
<text transform="scale(0.865,1)" x="1054.05 1065.84 1086.88 1103.29 1119.71" y="844.79" font-size="29.3" text-anchor="middle" font-family="'Liberation Sans', 'Noto Sans CJK SC', sans-serif" fill="#231f20" stroke="#231f20" stroke-width="0.5" stroke-linejoin="round" >0.600</text>
<text transform="scale(0.865,1)" x="1054.05 1065.84 1086.88 1103.29 1119.71" y="797.92" font-size="29.3" text-anchor="middle" font-family="'Liberation Sans', 'Noto Sans CJK SC', sans-serif" fill="#231f20" stroke="#231f20" stroke-width="0.5" stroke-linejoin="round" >0.625</text>
<text transform="scale(0.865,1)" x="1054.05 1065.84 1086.88 1103.29 1119.71" y="751.05" font-size="29.3" text-anchor="middle" font-family="'Liberation Sans', 'Noto Sans CJK SC', sans-serif" fill="#231f20" stroke="#231f20" stroke-width="0.5" stroke-linejoin="round" >0.650</text>
<text transform="scale(0.865,1)" x="1879.08 1890.87 1911.91 1928.32" y="1127.07" font-size="29.3" text-anchor="middle" font-family="'Liberation Sans', 'Noto Sans CJK SC', sans-serif" fill="#231f20" stroke="#231f20" stroke-width="0.5" stroke-linejoin="round" >0.55</text>
<text transform="scale(0.865,1)" x="1879.08 1890.87 1911.91 1928.32" y="1044.64" font-size="29.3" text-anchor="middle" font-family="'Liberation Sans', 'Noto Sans CJK SC', sans-serif" fill="#231f20" stroke="#231f20" stroke-width="0.5" stroke-linejoin="round" >0.60</text>
<text transform="scale(0.865,1)" x="1879.08 1890.87 1911.91 1928.32" y="962.21" font-size="29.3" text-anchor="middle" font-family="'Liberation Sans', 'Noto Sans CJK SC', sans-serif" fill="#231f20" stroke="#231f20" stroke-width="0.5" stroke-linejoin="round" >0.65</text>
<text transform="scale(0.865,1)" x="1879.08 1890.87 1911.91 1928.32" y="879.78" font-size="29.3" text-anchor="middle" font-family="'Liberation Sans', 'Noto Sans CJK SC', sans-serif" fill="#231f20" stroke="#231f20" stroke-width="0.5" stroke-linejoin="round" >0.70</text>
<text transform="scale(0.865,1)" x="1879.08 1890.87 1911.91 1928.32" y="797.35" font-size="29.3" text-anchor="middle" font-family="'Liberation Sans', 'Noto Sans CJK SC', sans-serif" fill="#231f20" stroke="#231f20" stroke-width="0.5" stroke-linejoin="round" >0.75</text>
<text transform="scale(0.865,1)" x="1173.99" y="1151.80" font-size="29.3" text-anchor="middle" font-family="'Liberation Sans', 'Noto Sans CJK SC', sans-serif" fill="#231f20" stroke="#231f20" stroke-width="0.5" stroke-linejoin="round" >0</text>
<text transform="scale(0.865,1)" x="1264.54 1280.96" y="1151.80" font-size="29.3" text-anchor="middle" font-family="'Liberation Sans', 'Noto Sans CJK SC', sans-serif" fill="#231f20" stroke="#231f20" stroke-width="0.5" stroke-linejoin="round" >10</text>
<text transform="scale(0.865,1)" x="1363.31 1379.72" y="1151.80" font-size="29.3" text-anchor="middle" font-family="'Liberation Sans', 'Noto Sans CJK SC', sans-serif" fill="#231f20" stroke="#231f20" stroke-width="0.5" stroke-linejoin="round" >20</text>
<text transform="scale(0.865,1)" x="1462.07 1478.49" y="1151.80" font-size="29.3" text-anchor="middle" font-family="'Liberation Sans', 'Noto Sans CJK SC', sans-serif" fill="#231f20" stroke="#231f20" stroke-width="0.5" stroke-linejoin="round" >30</text>
<text transform="scale(0.865,1)" x="1560.83 1577.25" y="1151.80" font-size="29.3" text-anchor="middle" font-family="'Liberation Sans', 'Noto Sans CJK SC', sans-serif" fill="#231f20" stroke="#231f20" stroke-width="0.5" stroke-linejoin="round" >40</text>
<text transform="scale(0.865,1)" x="1659.60 1676.01" y="1151.80" font-size="29.3" text-anchor="middle" font-family="'Liberation Sans', 'Noto Sans CJK SC', sans-serif" fill="#231f20" stroke="#231f20" stroke-width="0.5" stroke-linejoin="round" >50</text>
<text transform="scale(0.865,1)" x="1758.36 1774.77" y="1151.80" font-size="29.3" text-anchor="middle" font-family="'Liberation Sans', 'Noto Sans CJK SC', sans-serif" fill="#231f20" stroke="#231f20" stroke-width="0.5" stroke-linejoin="round" >60</text>
<text transform="scale(0.9,1)" x="1400.49 1416.73 1433.06 1448.88 1465.06 1481.26" y="1179.50" font-size="25.8" text-anchor="middle" font-family="'Liberation Sans', 'Noto Sans CJK SC', sans-serif" fill="#231f20" stroke="#231f20" stroke-width="0.5" stroke-linejoin="round" >Epochs</text>
<text transform="translate(893.50,0) rotate(-90) scale(0.9,1)" x="-1053.05 -1036.23 -1019.93 -1003.74" y="0" font-size="25.8" text-anchor="middle" font-family="'Liberation Sans', 'Noto Sans CJK SC', sans-serif" fill="#231f20" stroke="#231f20" stroke-width="0.5">Loss</text>
<text transform="translate(1700.80,0) rotate(-90) scale(0.9,1)" x="-1081.67 -1065.93 -1049.99 -1033.82 -1018.53 -1002.50 -986.21 -970.07" y="0" font-size="25.8" text-anchor="middle" font-family="'Liberation Sans', 'Noto Sans CJK SC', sans-serif" fill="#231f20" stroke="#231f20" stroke-width="0.5">Accuracy</text>
</svg></body></html>
